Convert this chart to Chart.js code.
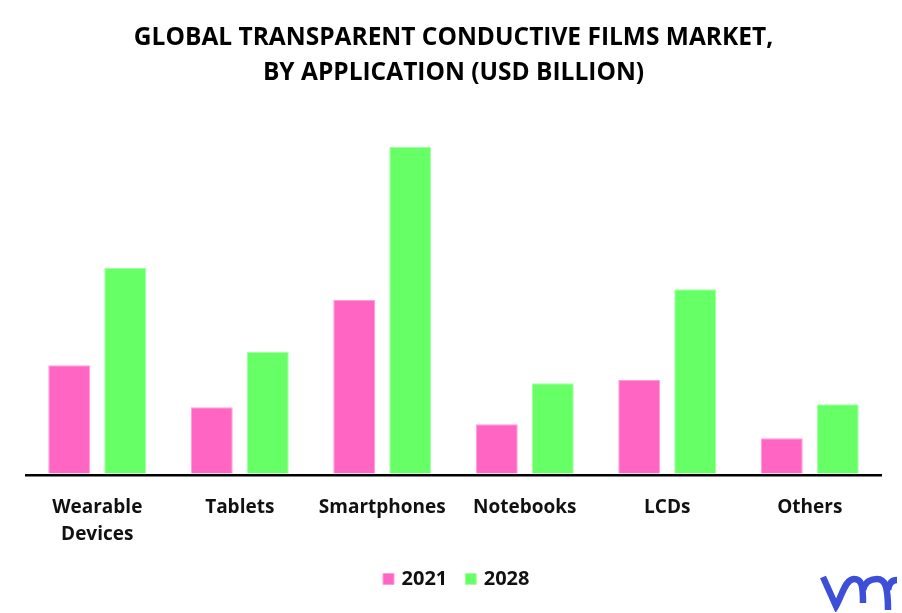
<!DOCTYPE html>
<html>
<head>
<meta charset="utf-8">
<style>
  html, body { margin: 0; padding: 0; background: #fff; overflow: hidden; }
  #wrap { position: relative; width: 902px; height: 613px; }
  #logo { position: absolute; left: 818px; top: 572px; }
</style>
<script src="https://cdn.jsdelivr.net/npm/chart.js@4"></script>
</head>
<body>
<div id="wrap">
  <canvas id="mainGraph" width="902" height="613"></canvas>
  <svg id="logo" width="80" height="40" viewBox="0 0 80 40" fill="none" stroke="#3D4FD8" stroke-width="6.5">
    <path d="M5 5 L18 34 C 24 24 27 7 36 7 C 44 7 45 14 45 31" />
    <path d="M45 18 C 47 9 54 7 59 7 C 67 7 70 14 70 38" />
    <path d="M70 18 C 71 11 74 8 79 8" />
  </svg>
</div>
<script>
const categories = [["Wearable", "Devices"], "Tablets", "Smartphones", "Notebooks", "LCDs", "Others"]
const values2021 = [2.7, 1.65, 4.33, 1.23, 2.33, 0.88]
const values2028 = [5.13, 3.03, 8.15, 2.25, 4.6, 1.73]
const titleLines = ["GLOBAL TRANSPARENT CONDUCTIVE FILMS MARKET,", "BY APPLICATION (USD BILLION)"]

const fontFamily = "'Open Sans', sans-serif"

// legend sits a little up and right of where the layout puts it
const legendShift = {
    id: "legendShift",
    afterLayout(chart) {
        chart.legend.left += 4
        chart.legend.right += 4
        chart.legend.top -= 14
        chart.legend.bottom -= 14
    }
}

new Chart(document.getElementById("mainGraph"), {
    type: "bar",
    data: {
        labels: categories,
        datasets: [
            {label: "2021", data: values2021, backgroundColor: "#FF66C4", borderColor: "#FF9BDA", borderWidth: 1},
            {label: "2028", data: values2028, backgroundColor: "#66FF66", borderColor: "#A0FFA0", borderWidth: 1}
        ]
    },
    options: {
        responsive: false,
        animation: false,
        categoryPercentage: 0.786,
        barPercentage: 0.75,
        layout: {padding: {left: 26, right: 21, top: 0, bottom: 0}},
        scales: {
            x: {
                grid: {display: false, drawTicks: false},
                border: {color: "#000000", width: 2.5},
                afterFit: (scale) => { scale.height -= 4 },
                ticks: {
                    color: "#111111",
                    padding: 18,
                    maxRotation: 0,
                    autoSkip: false,
                    font: {size: 19, family: fontFamily, weight: "bold", lineHeight: 1.45}
                }
            },
            y: {
                display: false,
                min: -0.05,
                max: 9
            }
        },
        plugins: {
            title: {
                display: true,
                text: titleLines,
                color: "#000000",
                font: {size: 24.5, family: fontFamily, weight: "bold", lineHeight: 1.45},
                padding: {top: 20, bottom: 22}
            },
            legend: {
                display: true,
                position: "bottom",
                labels: {
                    color: "#111111",
                    usePointStyle: true,
                    pointStyle: "rect",
                    boxWidth: 6,
                    boxHeight: 11,
                    padding: 20.5,
                    font: {size: 20, family: fontFamily, weight: "bold"}
                }
            },
            tooltip: {enabled: false}
        }
    },
    plugins: [legendShift]
})
</script>
</body>
</html>
